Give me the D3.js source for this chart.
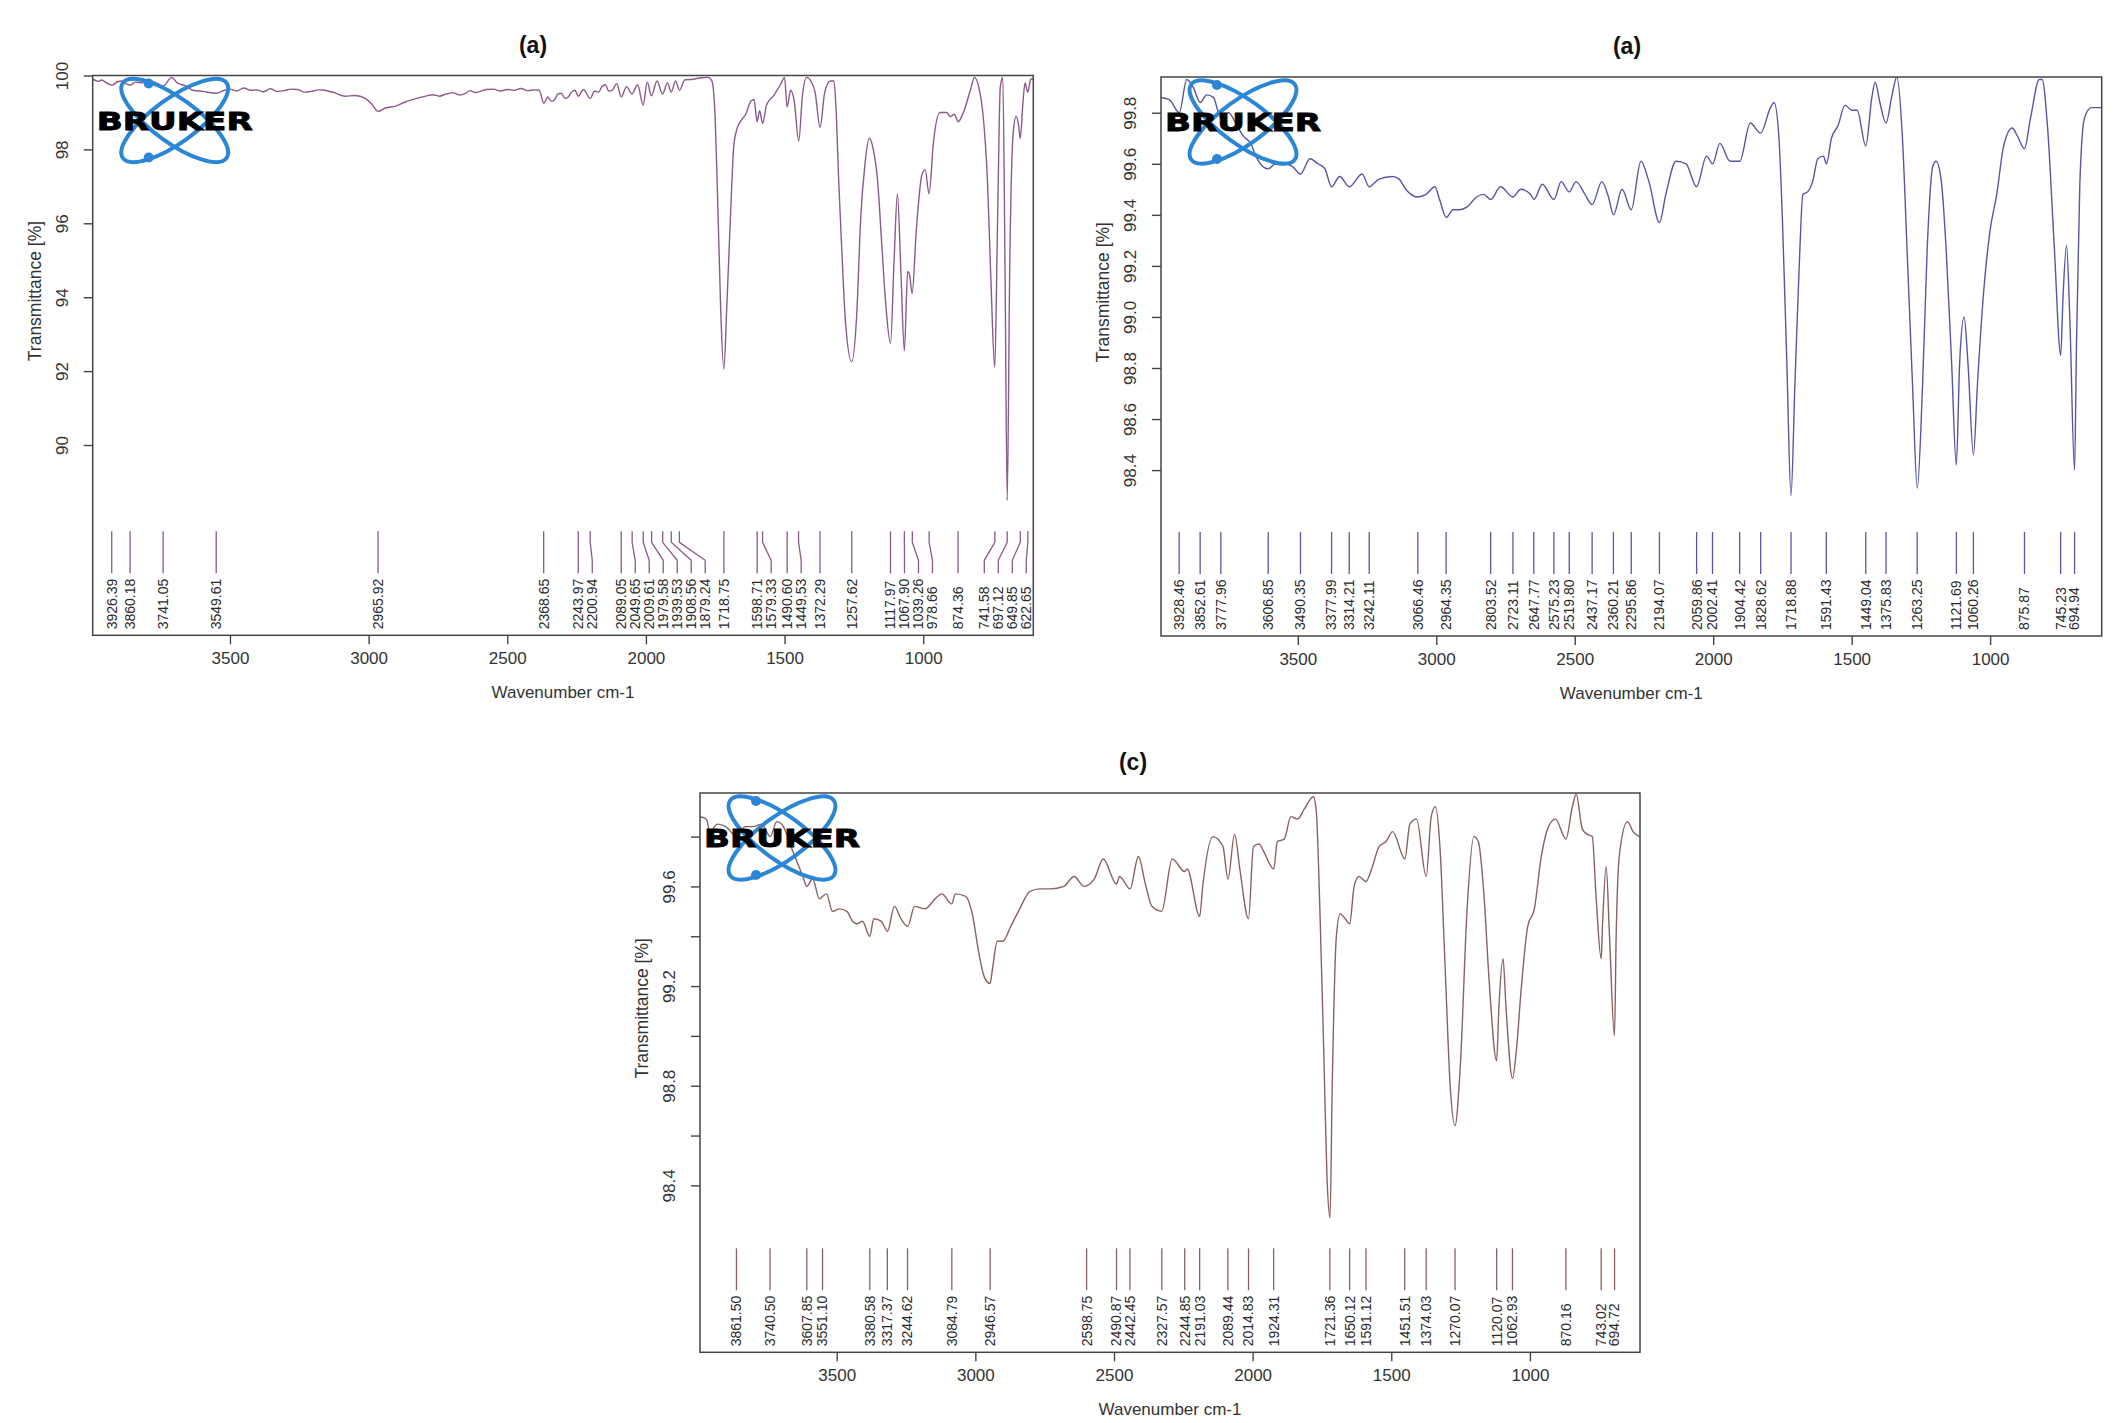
<!DOCTYPE html>
<html>
<head>
<meta charset="utf-8">
<script src="https://cdn.jsdelivr.net/npm/d3@7"></script>
<style>
  body { margin: 0; background: #fff; }
  text { font-family: "Liberation Sans", Arial, sans-serif; fill: #333; }
</style>
</head>
<body>
<script>
// shared x ticks (wavenumber, cm-1)
const xTicks = [3500, 3000, 2500, 2000, 1500, 1000];

// ---- spectrum (a), first panel
const aWave = [3995, 3975, 3963, 3945, 3926, 3905, 3890, 3875, 3860, 3840, 3817, 3800, 3780, 3760, 3741, 3710, 3690,
  3660, 3634, 3598, 3549, 3520, 3500, 3475, 3451, 3425, 3402, 3380, 3354, 3330, 3305, 3280, 3256, 3230, 3207, 3180,
  3159, 3122, 3085, 3049, 3012, 2988, 2966, 2939, 2902, 2866, 2817, 2790, 2768, 2745, 2720, 2695, 2671, 2650, 2634,
  2615, 2598, 2575, 2549, 2525, 2500, 2475, 2451, 2425, 2402, 2385, 2368, 2354, 2340, 2329, 2317, 2305, 2292, 2280,
  2268, 2256, 2244, 2225, 2201, 2185, 2171, 2158, 2146, 2134, 2122, 2105, 2089, 2070, 2050, 2030, 2010, 1995, 1980,
  1960, 1940, 1922, 1909, 1893, 1879, 1860, 1830, 1800, 1775, 1762, 1750, 1740, 1730, 1719, 1708, 1695, 1683, 1671,
  1655, 1640, 1622, 1610, 1599, 1590, 1579, 1565, 1540, 1515, 1500, 1491, 1478, 1465, 1449, 1435, 1420, 1405, 1390,
  1372, 1355, 1335, 1322, 1315, 1305, 1295, 1280, 1258, 1240, 1225, 1210, 1195, 1180, 1165, 1150, 1135, 1118, 1105,
  1093, 1080, 1068, 1056, 1049, 1040, 1025, 1005, 993, 979, 963, 940, 915, 902, 888, 874, 855, 830, 815, 800, 785,
  768, 756, 742, 732, 722, 713, 705, 697, 688, 675, 665, 657, 650, 640, 633, 623, 612, 603];
const aTrans = [99.9, 99.84, 99.88, 99.8, 99.74, 99.83, 99.85, 99.78, 99.74, 99.82, 99.8, 99.86, 99.84, 99.78, 99.72, 99.95, 99.8,
  99.72, 99.6, 99.57, 99.52, 99.6, 99.63, 99.58, 99.66, 99.6, 99.61, 99.56, 99.64, 99.57, 99.59, 99.63, 99.62, 99.55, 99.57, 99.61,
  99.6, 99.53, 99.44, 99.46, 99.38, 99.22, 99.03, 99.12, 99.17, 99.29, 99.4, 99.45, 99.48, 99.44, 99.5, 99.53, 99.47, 99.52, 99.59,
  99.54, 99.57, 99.62, 99.63, 99.58, 99.62, 99.6, 99.65, 99.59, 99.61, 99.6, 99.25, 99.42, 99.3, 99.35, 99.5, 99.52, 99.38, 99.42,
  99.55, 99.6, 99.44, 99.62, 99.38, 99.58, 99.55, 99.7, 99.75, 99.58, 99.6, 99.78, 99.42, 99.7, 99.5, 99.75, 99.2, 99.82, 99.45,
  99.85, 99.5, 99.8, 99.55, 99.85, 99.6, 99.88, 99.9, 99.94, 99.95, 99.85, 98.8, 96.3, 93.6, 92.05, 93.8, 96.2, 98.1, 98.57,
  98.8, 98.95, 99.3, 99.35, 98.75, 99.05, 98.7, 99.2, 99.45, 99.75, 99.95, 99.15, 99.6, 99.3, 98.22, 99.5, 99.95, 99.85, 99.55,
  98.6, 99.55, 99.85, 99.85, 99.2, 97.2, 95.5, 93.3, 92.25, 93.5, 96.2, 97.6, 98.3, 98.0, 97.2, 95.5, 93.8, 92.75, 95.0,
  96.8, 94.6, 92.55, 94.7, 94.6, 94.1, 95.8, 97.3, 97.45, 96.8, 98.2, 99.0, 99.0, 98.88, 98.95, 98.75, 99.0, 99.6, 99.95, 99.7, 99.0,
  97.1, 94.5, 92.1, 96.0, 99.7, 99.95, 94.8, 88.5, 94.8, 98.5, 98.9, 98.7, 98.3, 99.3, 99.8, 99.55, 99.9, 99.92];
const aPeaks = [3926.39, 3860.18, 3741.05, 3549.61, 2965.92, 2368.65, 2243.97, 2200.94, 2089.05, 2049.65, 2009.61,
  1979.58, 1939.53, 1908.56, 1879.24, 1718.75, 1598.71, 1579.33, 1490.60, 1449.53, 1372.29, 1257.62, 1117.97,
  1067.90, 1039.26, 978.66, 874.36, 741.58, 697.12, 649.85, 622.65];
const aYTicks = [90, 92, 94, 96, 98, 100];
const aYLabeled = [90, 92, 94, 96, 98, 100];

// ---- spectrum (a), second panel
const bWave = [3994, 3963, 3928, 3901, 3878, 3852, 3829, 3805, 3778, 3750, 3720, 3698, 3670, 3647, 3607, 3580, 3553,
  3520, 3490, 3456, 3427, 3402, 3378, 3349, 3314, 3268, 3242, 3207, 3159, 3134, 3110, 3068, 3037, 3005, 2988, 2964,
  2939, 2915, 2890, 2854, 2829, 2803, 2768, 2723, 2695, 2659, 2647, 2617, 2575, 2549, 2520, 2495, 2463, 2437, 2402,
  2378, 2360, 2329, 2296, 2261, 2232, 2194, 2171, 2134, 2098, 2060, 2024, 2002, 1976, 1939, 1904, 1866, 1829, 1793,
  1780, 1763, 1749, 1734, 1719, 1705, 1690, 1676, 1659, 1641, 1622, 1602, 1591, 1573, 1549, 1524, 1500, 1480, 1449,
  1427, 1415, 1398, 1376, 1354, 1337, 1317, 1300, 1280, 1263, 1244, 1227, 1207, 1195, 1176, 1159, 1139, 1122, 1110,
  1094, 1080, 1060, 1046, 1024, 1000, 976, 951, 920, 902, 876, 854, 822, 812, 793, 768, 745, 737, 724, 712, 695, 688,
  676, 659, 634, 597];
const bTrans = [99.86, 99.85, 99.8, 99.93, 99.9, 99.84, 99.87, 99.86, 99.78, 99.8, 99.75, 99.71, 99.68, 99.62, 99.58, 99.6, 99.6,
  99.59, 99.56, 99.62, 99.6, 99.58, 99.51, 99.55, 99.51, 99.56, 99.51, 99.54, 99.55, 99.54, 99.5, 99.47, 99.48, 99.51, 99.46, 99.39,
  99.42, 99.42, 99.43, 99.47, 99.48, 99.46, 99.51, 99.47, 99.5, 99.48, 99.46, 99.52, 99.46, 99.53, 99.49, 99.53, 99.48, 99.44, 99.53,
  99.47, 99.4, 99.5, 99.42, 99.61, 99.53, 99.37, 99.48, 99.61, 99.6, 99.51, 99.63, 99.6, 99.68, 99.61, 99.61, 99.76, 99.72, 99.82,
  99.84, 99.71, 99.35, 98.82, 98.3, 98.73, 99.18, 99.48, 99.49, 99.53, 99.62, 99.63, 99.6, 99.7, 99.75, 99.83, 99.81, 99.81, 99.67,
  99.86, 99.92, 99.84, 99.76, 99.87, 99.94, 99.71, 99.27, 98.73, 98.33, 98.73, 99.27, 99.59, 99.61, 99.53, 99.27, 98.82, 98.42, 98.82,
  99.0, 98.82, 98.46, 98.73, 99.09, 99.34, 99.48, 99.67, 99.74, 99.71, 99.66, 99.78, 99.93, 99.93, 99.75, 99.27, 98.85, 99.07, 99.28, 98.99, 98.4, 98.9,
  99.52, 99.78, 99.82, 99.82];
const bPeaks = [3928.46, 3852.61, 3777.96, 3606.85, 3490.35, 3377.99, 3314.21, 3242.11, 3066.46, 2964.35, 2803.52,
  2723.11, 2647.77, 2575.23, 2519.80, 2437.17, 2360.21, 2295.86, 2194.07, 2059.86, 2002.41, 1904.42, 1828.62,
  1718.88, 1591.43, 1449.04, 1375.83, 1263.25, 1121.69, 1060.26, 875.87, 745.23, 694.94];
const bYTicks = [98.4, 98.6, 98.8, 99.0, 99.2, 99.4, 99.6, 99.8];
const bYLabeled = [98.4, 98.6, 98.8, 99.0, 99.2, 99.4, 99.6, 99.8];

// ---- spectrum (c)
const cWave = [3993, 3970, 3957, 3930, 3900, 3861, 3830, 3802, 3770, 3740, 3716, 3698, 3658, 3622, 3608, 3587, 3562,
  3551, 3537, 3515, 3490, 3463, 3443, 3427, 3407, 3381, 3366, 3339, 3317, 3292, 3268, 3244, 3219, 3182, 3145, 3121,
  3085, 3072, 3035, 3011, 2987, 2969, 2947, 2938, 2921, 2901, 2872, 2840, 2803, 2767, 2730, 2681, 2644, 2608, 2571,
  2539, 2491, 2480, 2442, 2412, 2387, 2363, 2328, 2290, 2245, 2236, 2191, 2180, 2143, 2107, 2089, 2065, 2045, 2015,
  1997, 1977, 1960, 1924, 1911, 1886, 1862, 1838, 1814, 1781, 1771, 1757, 1744, 1732, 1721, 1713, 1698, 1684, 1666,
  1650, 1634, 1617, 1591, 1568, 1544, 1519, 1495, 1451, 1433, 1409, 1374, 1356, 1341, 1324, 1307, 1287, 1270, 1251,
  1227, 1202, 1186, 1166, 1147, 1120, 1112, 1097, 1086, 1063, 1049, 1032, 1008, 984, 959, 933, 908, 877, 870, 847,
  833, 811, 794, 775, 762, 743, 738, 725, 713, 695, 689, 677, 648, 628, 604];
const cTrans = [99.88, 99.87, 99.82, 99.85, 99.84, 99.8, 99.84, 99.84, 99.85, 99.8, 99.86, 99.85, 99.74, 99.64, 99.6, 99.63, 99.55,
  99.56, 99.57, 99.5, 99.51, 99.5, 99.46, 99.45, 99.46, 99.4, 99.47, 99.46, 99.42, 99.52, 99.47, 99.44, 99.52, 99.51, 99.55, 99.57,
  99.53, 99.57, 99.56, 99.49, 99.33, 99.24, 99.21, 99.27, 99.38, 99.38, 99.44, 99.51, 99.58, 99.59, 99.59, 99.6, 99.64, 99.6, 99.63,
  99.71, 99.61, 99.64, 99.59, 99.72, 99.61, 99.52, 99.5, 99.71, 99.66, 99.67, 99.48, 99.6, 99.8, 99.76, 99.63, 99.81, 99.66, 99.47,
  99.76, 99.77, 99.74, 99.67, 99.78, 99.79, 99.88, 99.87, 99.91, 99.96, 99.91, 99.49, 98.96, 98.44, 98.27, 98.8, 99.4, 99.49, 99.47,
  99.45, 99.6, 99.64, 99.62, 99.68, 99.76, 99.78, 99.82, 99.71, 99.85, 99.87, 99.64, 99.88, 99.92, 99.75, 99.31, 98.79, 98.64, 98.88,
  99.5, 99.8, 99.78, 99.57, 99.22, 98.9, 99.11, 99.31, 99.11, 98.83, 98.94, 99.18, 99.44, 99.51, 99.72, 99.84, 99.87, 99.8, 99.79, 99.92,
  99.97, 99.83, 99.81, 99.8, 99.57, 99.31, 99.45, 99.68, 99.4, 99.0, 99.4, 99.73, 99.86, 99.82, 99.8];
const cPeaks = [3861.50, 3740.50, 3607.85, 3551.10, 3380.58, 3317.37, 3244.62, 3084.79, 2946.57, 2598.75, 2490.87,
  2442.45, 2327.57, 2244.85, 2191.03, 2089.44, 2014.83, 1924.31, 1721.36, 1650.12, 1591.12, 1451.51, 1374.03,
  1270.07, 1120.07, 1062.93, 870.16, 743.02, 694.72];
const cYTicks = [98.4, 98.6, 98.8, 99.0, 99.2, 99.4, 99.6, 99.8];
const cYLabeled = [98.4, 98.8, 99.2, 99.6];

const W = 2122, H = 1423;
const svg = d3.select("body").append("svg").attr("width", W).attr("height", H);

// separates crowded peak labels, keeps them inside the frame
function spreadLabels(xs, gap, maxX) {
  const pos = xs.slice();
  for (let i = 1; i < pos.length; i++) {
    if (pos[i] - pos[i - 1] < gap) pos[i] = pos[i - 1] + gap;
  }
  if (pos[pos.length - 1] > maxX) pos[pos.length - 1] = maxX;
  for (let i = pos.length - 2; i >= 0; i--) {
    if (pos[i + 1] - pos[i] < gap) pos[i] = pos[i + 1] - gap;
  }
  return pos;
}

function drawLogo(g) {
  const lg = g.append("g").attr("transform", "translate(82,45)");
  [36, -36].forEach(a => {
    lg.append("ellipse").attr("rx", 64).attr("ry", 22)
      .attr("transform", `rotate(${a})`)
      .attr("fill", "none").attr("stroke", "#2b86d6").attr("stroke-width", 4);
  });
  [[-26, -37], [-26, 37]].forEach(p => {
    lg.append("circle").attr("cx", p[0]).attr("cy", p[1]).attr("r", 5).attr("fill", "#2b86d6");
  });
  lg.append("text").attr("x", -78).attr("y", 9)
    .attr("textLength", 156).attr("lengthAdjust", "spacingAndGlyphs")
    .style("font-family", "'DejaVu Sans', sans-serif").style("font-weight", "bold")
    .style("font-size", "25px").style("fill", "#000")
    .style("stroke", "#000").style("stroke-width", 0.9)
    .text("BRUKER");
}

function drawPanel(cfg) {
  const g = svg.append("g").attr("transform", `translate(${cfg.left},${cfg.top})`);
  const x = d3.scaleLinear().domain(cfg.xDomain).range([0, cfg.width]);
  const y = d3.scaleLinear().domain(cfg.yDomain).range([cfg.height, 0]);

  // title
  svg.append("text").attr("x", cfg.titleX).attr("y", cfg.top - 23)
    .attr("text-anchor", "middle").style("font-size", "23px").style("font-weight", "bold")
    .style("fill", "#111").text(cfg.title);

  // spectrum
  const clipId = "clip-" + cfg.id;
  g.append("clipPath").attr("id", clipId).append("rect")
    .attr("width", cfg.width).attr("height", cfg.height);
  const pts = cfg.wave.map((w, i) => [w, cfg.trans[i]]);
  g.append("path").datum(pts)
    .attr("clip-path", `url(#${clipId})`)
    .attr("fill", "none").attr("stroke", cfg.color).attr("stroke-width", 1.4)
    .attr("d", d3.line().x(d => x(d[0])).y(d => y(d[1])).curve(d3.curveMonotoneX));

  // peak markers with labels
  const px = cfg.peaks.map(p => x(p));
  const lx = spreadLabels(px, cfg.gap, cfg.width - 7);
  const hb = cfg.height;
  cfg.peaks.forEach((p, i) => {
    g.append("path")
      .attr("d", `M${px[i]},${hb - 104}L${px[i]},${hb - 93}L${lx[i]},${hb - 75}L${lx[i]},${hb - 62}`)
      .attr("fill", "none").attr("stroke", cfg.color).attr("stroke-width", 1.3);
    g.append("text")
      .attr("transform", `translate(${lx[i]},${hb - 6}) rotate(-90)`)
      .attr("dy", "0.35em").style("font-size", "14px").style("fill", "#2a2a2a")
      .text(d3.format(".2f")(p));
  });

  // x axis
  const xa = g.append("g").attr("transform", `translate(0,${cfg.height})`)
    .call(d3.axisBottom(x).tickValues(xTicks).tickSize(9).tickPadding(8).tickFormat(d3.format("d")));
  xa.select(".domain").remove();
  xa.selectAll("line").attr("stroke", "#444").attr("stroke-width", 1.4);
  xa.selectAll("text").style("font-size", "17px").style("fill", "#333")
    .style("font-family", "'Liberation Sans', Arial, sans-serif");

  // y axis, labels rotated like the original
  const ya = g.append("g")
    .call(d3.axisLeft(y).tickValues(cfg.yTicks).tickSize(9)
      .tickFormat(d => cfg.yLabeled.some(v => Math.abs(v - d) < 1e-9) ? cfg.yFormat(d) : ""));
  ya.select(".domain").remove();
  ya.selectAll("line").attr("stroke", "#444").attr("stroke-width", 1.4);
  ya.selectAll("text")
    .attr("transform", "rotate(-90)").attr("x", 0).attr("y", -31).attr("dy", "0.35em")
    .attr("text-anchor", "middle")
    .style("font-size", "17px").style("fill", "#333")
    .style("font-family", "'Liberation Sans', Arial, sans-serif");

  // axis titles
  g.append("text").attr("x", cfg.width / 2).attr("y", cfg.height + 63)
    .attr("text-anchor", "middle").style("font-size", "17px").text("Wavenumber cm-1");
  g.append("text")
    .attr("transform", `translate(-58,${cfg.height * 0.385}) rotate(-90)`)
    .attr("dy", "0.35em").attr("text-anchor", "middle").style("font-size", "17.5px")
    .text("Transmittance [%]");

  // frame
  g.append("rect").attr("width", cfg.width).attr("height", cfg.height)
    .attr("fill", "none").attr("stroke", "#444").attr("stroke-width", 1.5);

  drawLogo(g);
}

drawPanel({
  id: "a", title: "(a)", titleX: 533, left: 92.7, top: 75.5, width: 940.6, height: 559.8,
  xDomain: [3995, 603], yDomain: [84.85, 100], color: "#8a5a8a", gap: 14,
  wave: aWave, trans: aTrans, peaks: aPeaks, yTicks: aYTicks, yLabeled: aYLabeled, yFormat: d3.format("d")
});
drawPanel({
  id: "b", title: "(a)", titleX: 1627, left: 1161, top: 77, width: 940.7, height: 559,
  xDomain: [3994, 597], yDomain: [97.75, 99.94], color: "#5656a6", gap: 12.5,
  wave: bWave, trans: bTrans, peaks: bPeaks, yTicks: bYTicks, yLabeled: bYLabeled, yFormat: d3.format(".1f")
});
drawPanel({
  id: "c", title: "(c)", titleX: 1133, left: 700, top: 793, width: 940, height: 559.3,
  xDomain: [3993, 603], yDomain: [97.73, 99.975], color: "#8a6060", gap: 12.5,
  wave: cWave, trans: cTrans, peaks: cPeaks, yTicks: cYTicks, yLabeled: cYLabeled, yFormat: d3.format(".1f")
});
</script>
</body>
</html>
